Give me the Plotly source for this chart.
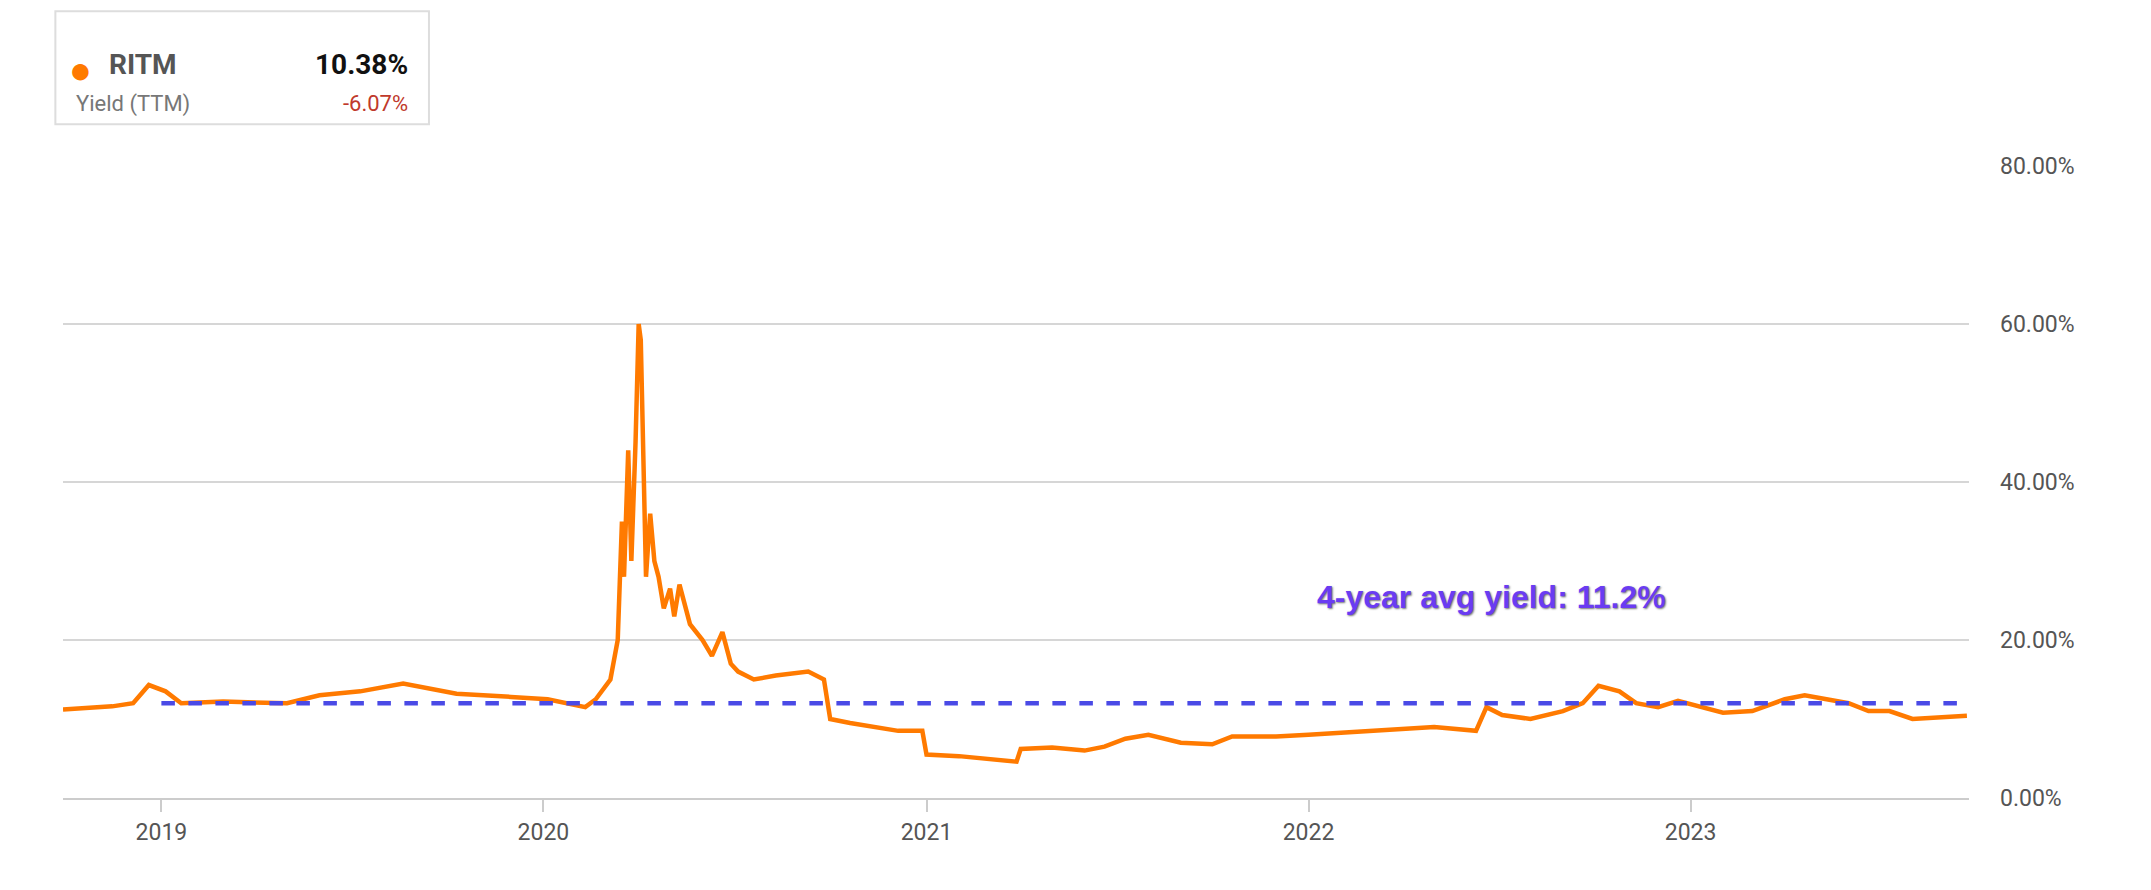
import plotly.graph_objects as go

dates = ['2018-09-29', '2018-10-20', '2018-11-15', '2018-12-05', '2018-12-20', '2019-01-05', '2019-01-20',
         '2019-03-01', '2019-05-01', '2019-06-01', '2019-07-10', '2019-08-20', '2019-09-10', '2019-10-10',
         '2019-12-01', '2020-01-05', '2020-02-10', '2020-02-20', '2020-03-05', '2020-03-12', '2020-03-16',
         '2020-03-18', '2020-03-22', '2020-03-25', '2020-03-29', '2020-04-01', '2020-04-03', '2020-04-06',
         '2020-04-08', '2020-04-12', '2020-04-16', '2020-04-20', '2020-04-25', '2020-05-01', '2020-05-05',
         '2020-05-10', '2020-05-20', '2020-06-01', '2020-06-10', '2020-06-20', '2020-06-28', '2020-07-05',
         '2020-07-20', '2020-08-10', '2020-09-10', '2020-09-25', '2020-10-01', '2020-10-20', '2020-11-15',
         '2020-12-05', '2020-12-28', '2021-01-01', '2021-02-01', '2021-03-15', '2021-03-28', '2021-04-01',
         '2021-05-01', '2021-06-01', '2021-06-20', '2021-07-10', '2021-08-01', '2021-09-01', '2021-10-01',
         '2021-10-20', '2021-12-01', '2022-01-01', '2022-03-01', '2022-05-01', '2022-06-10', '2022-06-20',
         '2022-07-05', '2022-08-01', '2022-09-01', '2022-09-20', '2022-10-05', '2022-10-25', '2022-11-10',
         '2022-12-01', '2022-12-20', '2023-01-10', '2023-02-01', '2023-03-01', '2023-04-01', '2023-04-20',
         '2023-05-10', '2023-06-01', '2023-06-20', '2023-07-10', '2023-08-01', '2023-09-01', '2023-09-22']
yields = [11.2, 11.4, 11.6, 12.0, 14.3, 13.5, 12.0,
          12.2, 12.0, 13.0, 13.5, 14.5, 14.0, 13.2,
          12.8, 12.5, 11.5, 12.5, 15.0, 20.0, 35.0,
          28.0, 44.0, 30.0, 45.0, 60.0, 58.0, 40.0,
          28.0, 36.0, 30.0, 28.0, 24.0, 26.5, 23.0,
          27.0, 22.0, 20.0, 18.0, 21.0, 17.0, 16.0,
          15.0, 15.5, 16.0, 15.0, 10.0, 9.5, 9.0,
          8.5, 8.5, 5.5, 5.3, 4.8, 4.6, 6.2,
          6.4, 6.0, 6.5, 7.5, 8.0, 7.0, 6.8,
          7.8, 7.8, 8.0, 8.5, 9.0, 8.5, 11.5,
          10.5, 10.0, 11.0, 12.0, 14.2, 13.5, 12.0,
          11.5, 12.3, 11.5, 10.8, 11.0, 12.5, 13.0,
          12.5, 12.0, 11.0, 11.0, 10.0, 10.2, 10.4]
avg_dates = ['2019-01-01', '2023-09-22']
avg_level = 12.0
y_ticks = [0, 20, 40, 60, 80]
y_tick_labels = ['0.00%', '20.00%', '40.00%', '60.00%', '80.00%']
x_ticks = ['2019-01-01', '2020-01-01', '2021-01-01', '2022-01-01', '2023-01-01']
x_tick_labels = ['2019', '2020', '2021', '2022', '2023']

FONT = 'Roboto'
fig = go.Figure()
fig.add_trace(go.Scatter(x=dates, y=yields, mode='lines', line=dict(color='#ff7a00', width=4.5), showlegend=False))
fig.add_trace(go.Scatter(x=avg_dates, y=[avg_level] * 2, mode='lines',
                         line=dict(color='#4a4ae6', width=4.5, dash='dash'), showlegend=False))

fig.update_layout(
    width=2151, height=890, paper_bgcolor='white', plot_bgcolor='white',
    margin=dict(l=55, r=190, t=158, b=100),
    font=dict(family=FONT, color='#555555', size=23),
    xaxis=dict(range=['2018-09-29', '2023-09-24'], tickvals=x_ticks, ticktext=x_tick_labels,
               showgrid=False, showline=True, linecolor='#cccccc', linewidth=2,
               ticks='outside', ticklen=12, tickcolor='#cccccc', tickwidth=2, zeroline=False),
    yaxis=dict(range=[0, 80], side='right', tickvals=y_ticks, ticktext=y_tick_labels,
               gridcolor='#d6d6d6', gridwidth=2, zeroline=False, ticklabelstandoff=30),
)

fig.add_annotation(x='2022-06-25', y=25.5, text='<b>4-year avg yield: 11.2%</b>', showarrow=False,
                   font=dict(size=32, color='#6a3cf2', family='Arial', shadow='1px 1px 2px #777'))

# info box
fig.add_shape(type='rect', xref='paper', yref='paper', x0=-0.004, x1=0.192, y0=1.066, y1=1.245,
              line=dict(color='#dddddd', width=2), fillcolor='white', layer='above')
fig.add_annotation(xref='paper', yref='paper', x=0.002, y=1.19, text='●', showarrow=False,
                   font=dict(size=38, color='#ff7a00'), xanchor='left')
fig.add_annotation(xref='paper', yref='paper', x=0.023, y=1.19, text='<b>RITM</b>', showarrow=False,
                   font=dict(size=28, color='#555555'), xanchor='left')
fig.add_annotation(xref='paper', yref='paper', x=0.182, y=1.19, text='<b>10.38%</b>', showarrow=False,
                   font=dict(size=28, color='#111111'), xanchor='right')
fig.add_annotation(xref='paper', yref='paper', x=0.006, y=1.122, text='Yield (TTM)', showarrow=False,
                   font=dict(size=22, color='#777777'), xanchor='left')
fig.add_annotation(xref='paper', yref='paper', x=0.182, y=1.122, text='-6.07%', showarrow=False,
                   font=dict(size=22, color='#c0392b'), xanchor='right')

fig.write_html('out.html')
